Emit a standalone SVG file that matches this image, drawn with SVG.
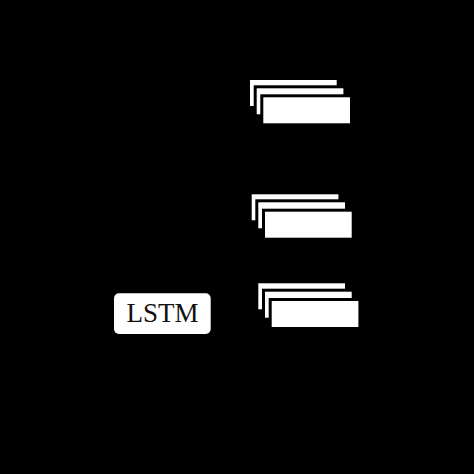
<svg xmlns="http://www.w3.org/2000/svg" width="474" height="474" viewBox="0 0 474 474">
<style>
.card{fill:#fff;stroke:#000;stroke-width:3}
.lbl{font-family:"Liberation Serif","Times New Roman",serif;font-size:27px;fill:#111;text-anchor:middle}
</style>
<rect x="0" y="0" width="474" height="474" fill="#000"/>
<g id="stack1">
<rect class="card" x="248.5" y="78.5" width="89.7" height="29"/>
<rect class="card" x="255.2" y="86.8" width="89.7" height="29"/>
<rect class="card" x="261.8" y="95.8" width="89.7" height="29"/>
</g>
<g id="stack2">
<rect class="card" x="250.2" y="192.8" width="89.7" height="29"/>
<rect class="card" x="256.8" y="200.8" width="89.7" height="29"/>
<rect class="card" x="263.5" y="210.2" width="89.7" height="29"/>
</g>
<g id="stack3">
<rect class="card" x="256.8" y="281.8" width="89.7" height="29"/>
<rect class="card" x="263.5" y="290.2" width="89.7" height="29"/>
<rect class="card" x="270.2" y="299.5" width="89.7" height="29"/>
</g>
<g id="lstm">
<rect x="114" y="293.3" width="96.7" height="40.7" rx="5" fill="#fff"/>
<text class="lbl" x="162.5" y="322.3">LSTM</text>
</g>
<g id="connectors"/>
</svg>
